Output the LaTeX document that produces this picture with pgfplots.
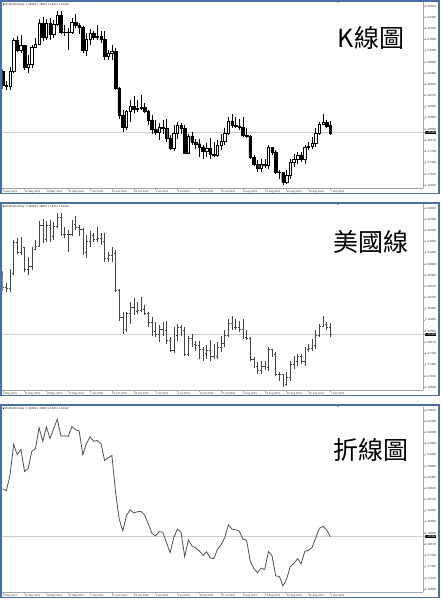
\documentclass[border=0pt]{standalone}
\usepackage{pgfplots}
\pgfplotsset{compat=1.18}
\usepackage{pgfplotstable}
\usepackage{fontspec}
\setmainfont{Liberation Sans}
\newfontfamily\cjk{Noto Sans CJK TC}
\definecolor{mtblue}{RGB}{72,112,165}
\definecolor{axgray}{RGB}{165,165,165}
\definecolor{pricegray}{RGB}{205,205,205}
\definecolor{ohlc}{RGB}{70,70,70}
\definecolor{linec}{RGB}{80,80,80}

\pgfdeclareplotmark{ohlcopen}{%
  \pgfpathmoveto{\pgfqpoint{-\pgfplotmarksize}{0pt}}%
  \pgfpathlineto{\pgfqpoint{0pt}{0pt}}%
  \pgfusepathqstroke}
\pgfdeclareplotmark{ohlcclose}{%
  \pgfpathmoveto{\pgfqpoint{0pt}{0pt}}%
  \pgfpathlineto{\pgfqpoint{\pgfplotmarksize}{0pt}}%
  \pgfusepathqstroke}

\pgfplotstableread{
X O H L C
0 1.2057 1.2065 1.1995 1.2009
1 1.2009 1.2024 1.1992 1.2003
2 1.2003 1.2070 1.1992 1.2055
3 1.2055 1.2171 1.2050 1.2162
4 1.2162 1.2179 1.2122 1.2127
5 1.2127 1.2180 1.2120 1.2145
6 1.2145 1.2148 1.2061 1.2069
7 1.2069 1.2113 1.2050 1.2079
8 1.2079 1.2148 1.2067 1.2139
9 1.2139 1.2171 1.2135 1.2148
10 1.2148 1.2235 1.2145 1.2220
11 1.2220 1.2244 1.2160 1.2173
12 1.2173 1.2237 1.2165 1.2223
13 1.2223 1.2241 1.2165 1.2183
14 1.2183 1.2232 1.2171 1.2217
15 1.2217 1.2264 1.2212 1.2249
16 1.2249 1.2264 1.2183 1.2191
17 1.2191 1.2214 1.2177 1.2192
18 1.2192 1.2206 1.2131 1.2190
19 1.2190 1.2241 1.2183 1.2224
20 1.2224 1.2252 1.2205 1.2213
21 1.2213 1.2223 1.2183 1.2209
22 1.2209 1.2212 1.2119 1.2127
23 1.2127 1.2188 1.2107 1.2165
24 1.2165 1.2200 1.2148 1.2188
25 1.2188 1.2194 1.2165 1.2173
26 1.2173 1.2217 1.2165 1.2176
27 1.2176 1.2194 1.2154 1.2165
28 1.2165 1.2194 1.2096 1.2107
29 1.2107 1.2131 1.2096 1.2117
30 1.2117 1.2148 1.2096 1.2124
31 1.2124 1.2136 1.1992 1.1998
32 1.1998 1.2003 1.1893 1.1905
33 1.1905 1.1922 1.1847 1.1864
34 1.1864 1.1922 1.1853 1.1917
35 1.1917 1.1957 1.1882 1.1937
36 1.1937 1.1969 1.1911 1.1926
37 1.1926 1.1957 1.1917 1.1930
38 1.1930 1.1974 1.1922 1.1931
39 1.1931 1.1945 1.1911 1.1919
40 1.1919 1.1922 1.1870 1.1888
41 1.1888 1.1905 1.1841 1.1856
42 1.1856 1.1888 1.1836 1.1847
43 1.1847 1.1876 1.1818 1.1862
44 1.1862 1.1888 1.1841 1.1859
45 1.1859 1.1893 1.1812 1.1824
46 1.1824 1.1836 1.1783 1.1789
47 1.1789 1.1870 1.1782 1.1841
48 1.1841 1.1882 1.1824 1.1870
49 1.1870 1.1876 1.1841 1.1859
50 1.1859 1.1870 1.1772 1.1775
51 1.1775 1.1841 1.1770 1.1833
52 1.1833 1.1847 1.1801 1.1812
53 1.1812 1.1824 1.1789 1.1806
54 1.1806 1.1824 1.1760 1.1795
55 1.1795 1.1801 1.1754 1.1780
56 1.1780 1.1807 1.1760 1.1792
57 1.1792 1.1827 1.1754 1.1771
58 1.1771 1.1812 1.1760 1.1768
59 1.1768 1.1818 1.1762 1.1801
60 1.1801 1.1841 1.1783 1.1816
61 1.1816 1.1859 1.1801 1.1841
62 1.1841 1.1899 1.1836 1.1885
63 1.1885 1.1908 1.1859 1.1870
64 1.1870 1.1899 1.1859 1.1868
65 1.1868 1.1893 1.1853 1.1863
66 1.1863 1.1899 1.1830 1.1836
67 1.1836 1.1859 1.1826 1.1832
68 1.1832 1.1836 1.1754 1.1760
69 1.1760 1.1766 1.1728 1.1734
70 1.1734 1.1749 1.1708 1.1720
71 1.1720 1.1754 1.1708 1.1736
72 1.1736 1.1754 1.1722 1.1731
73 1.1731 1.1801 1.1720 1.1793
74 1.1793 1.1795 1.1766 1.1778
75 1.1778 1.1783 1.1702 1.1709
76 1.1709 1.1714 1.1685 1.1707
77 1.1707 1.1708 1.1664 1.1674
78 1.1674 1.1714 1.1668 1.1698
79 1.1698 1.1754 1.1685 1.1741
80 1.1741 1.1772 1.1726 1.1752
81 1.1752 1.1778 1.1737 1.1768
82 1.1768 1.1778 1.1743 1.1751
83 1.1751 1.1801 1.1737 1.1794
84 1.1794 1.1812 1.1783 1.1797
85 1.1797 1.1830 1.1789 1.1807
86 1.1807 1.1859 1.1795 1.1841
87 1.1841 1.1882 1.1836 1.1873
88 1.1873 1.1908 1.1870 1.1880
89 1.1880 1.1888 1.1859 1.1868
90 1.1869 1.1883 1.1837 1.1844
}\eurusd

\pgfplotsset{
  mtbase/.style={
    scale only axis, width=420.5pt, height=185.5pt,
    xmin=-0.06, xmax=115.47, ymin=1.16534, ymax=1.22931,
    anchor=south west,
  },
  mtframe/.style={
    mtbase,
    axis x line*=bottom, axis y line*=right,
    axis line style={axgray, line width=0.4pt},
    tick align=outside, major tick length=1.6pt,
    tick style={axgray, line width=0.4pt},
    xtick={0,6,...,90},
    xticklabels={3 May 2021,11 May 2021,19 May 2021,27 May 2021,7 Jun 2021,15 Jun 2021,23 Jun 2021,1 Jul 2021,9 Jul 2021,19 Jul 2021,27 Jul 2021,4 Aug 2021,12 Aug 2021,20 Aug 2021,30 Aug 2021,7 Sep 2021},
    ytick={1.2281,1.2243,1.2204,1.2165,1.2126,1.2088,1.2049,1.2010,1.1972,1.1933,1.1895,1.1856,1.1817,1.1779,1.1740,1.1701,1.1662},
    yticklabels={1.22810,1.22430,1.22040,1.21650,1.21260,1.20880,1.20490,1.20100,1.19720,1.19330,1.18950,1.18560,1.18170,1.17790,1.17400,1.17010,1.16620},
    xticklabel style={anchor=north west, font=\fontsize{2.7}{3}\selectfont, inner sep=0.4pt, xshift=-0.3pt, text=black!80},
    yticklabel style={anchor=west, font=\fontsize{3}{3.5}\selectfont, inner sep=0.4pt, text=black!80},
    extra y ticks={1.18442},
    extra y tick labels={1.18442},
    extra y tick style={yticklabel style={fill=black, text=white}},
  },
  mtbodies/.style={mtbase, hide axis, ybar stacked, bar width=0.68},
  wick/.style={draw=none, mark=none, error bars/.cd, y dir=plus, y explicit, error mark=none,
    error bar style={draw=#1, line width=0.5pt}},
}

\begin{document}
\begin{tikzpicture}
\path[use as bounding box] (0pt,0pt) rectangle (440pt,600pt);

% ===== Panel 1: candlesticks =====
\begin{axis}[mtframe, at={(2.5pt,412pt)}]
\addplot[pricegray, line width=0.4pt] coordinates {(-1,1.18442) (120,1.18442)};
\addplot[wick=black]
  table[x=X, y=L, y error plus expr=\thisrow{H}-\thisrow{L}] {\eurusd};
\end{axis}
\begin{axis}[mtbodies, at={(2.5pt,412pt)}]
\addplot[draw=none, fill=none] table[x=X, y expr={min(\thisrow{O},\thisrow{C})}] {\eurusd};
\addplot[draw=black, fill=white, line width=0.45pt] table[x=X, y expr={max(\thisrow{C}-\thisrow{O},0)}] {\eurusd};
\addplot[draw=black, fill=black, line width=0.45pt] table[x=X, y expr={max(\thisrow{O}-\thisrow{C},0)}] {\eurusd};
\end{axis}

% ===== Panel 2: OHLC bars =====
\begin{axis}[mtframe, at={(2.5pt,210pt)}]
\addplot[pricegray, line width=0.4pt] coordinates {(-1,1.18442) (120,1.18442)};
\addplot[wick=ohlc]
  table[x=X, y=L, y error plus expr=\thisrow{H}-\thisrow{L}] {\eurusd};
\addplot[only marks, mark=ohlcopen, mark size=1.4pt, ohlc, line width=0.55pt] table[x=X, y=O] {\eurusd};
\addplot[only marks, mark=ohlcclose, mark size=1.4pt, ohlc, line width=0.55pt] table[x=X, y=C] {\eurusd};
\end{axis}

% ===== Panel 3: line =====
\begin{axis}[mtframe, at={(2.5pt,8pt)}]
\addplot[pricegray, line width=0.4pt] coordinates {(-1,1.18442) (120,1.18442)};
\addplot[linec, line width=0.8pt, mark=none] table[x=X, y=C] {\eurusd};
\end{axis}

% ===== frames, headers, titles =====
\foreach \P in {0,202,404} {
  \draw[mtblue, line width=1.8pt] (0.9pt,{600pt-\P pt-0.9pt}) rectangle (439.1pt,{600pt-\P pt-193.6pt});
  \fill[black] (2.6pt,{600pt-\P pt-3.7pt}) -- (4.6pt,{600pt-\P pt-3.7pt}) -- (3.6pt,{600pt-\P pt-5.2pt}) -- cycle;
  \node[anchor=west, inner sep=0pt, font=\fontsize{2.8}{3}\selectfont, text=black!85]
    at (5.5pt,{600pt-\P pt-4.5pt}) {EURUSD,Daily\ \ 1.18689 1.18832 1.18374 1.18442};
  \fill[axgray] (336.8pt,{600pt-\P pt-1.8pt}) -- (339.2pt,{600pt-\P pt-1.8pt}) -- (338pt,{600pt-\P pt-3.6pt}) -- cycle;
}
\node[font=\cjk\fontsize{25}{25}\selectfont] at (371pt,562pt) {K線圖};
\node[font=\cjk\fontsize{25}{25}\selectfont] at (371pt,358pt) {美國線};
\node[font=\cjk\fontsize{25}{25}\selectfont] at (371pt,150pt) {折線圖};
\end{tikzpicture}
\end{document}
